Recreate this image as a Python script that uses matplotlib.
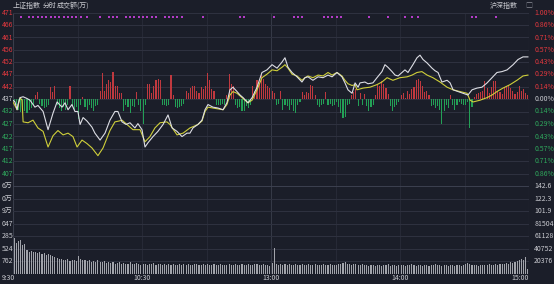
import matplotlib
matplotlib.use('Agg')
import matplotlib.pyplot as plt
import matplotlib.transforms as mtransforms
import numpy as np

plt.rcParams['font.family'] = ['Noto Sans CJK SC', 'DejaVu Sans']

# ---------------- data ----------------
# left price labels (only the visible tail digits of 3471 ... 3407)
price_labels = ['471', '466', '461', '456', '452', '447', '442', '437',
                '432', '427', '422', '417', '412', '407']
pct_levels = [1.00, 0.86, 0.71, 0.57, 0.43, 0.29, 0.14, 0.00,
              -0.14, -0.29, -0.43, -0.57, -0.71, -0.86]
time_labels = ['9:30', '10:30', '13:00', '14:00', '15:00']
time_label_pos = [0, 60, 120, 180, 240]

# white line (上证指数), minutes from 9:30, % change
white_t = [0, 0.9, 1.9, 2.3, 3.3, 4.7, 6.5, 7.9, 10.2, 11.6, 14.0, 16.3, 18.6, 20.5, 22.8, 24.2,
           25.6, 27.4, 28.8, 30.2, 31.2, 32.6, 34.4, 36.7, 38.1, 40.5, 42.8, 45.1, 47.4, 48.8,
           50.7, 52.6, 54.4, 56.7, 58.1, 60.0, 61.4, 62.8, 65.1, 67.4, 69.8, 72.1, 74.0, 76.3,
           78.6, 80.9, 82.3, 83.7, 86.0, 87.9, 89.3, 90.7, 93.0, 95.3, 97.7, 99.5, 100.9, 102.3,
           104.2, 105.6, 107.0, 109.3, 111.2, 113.5, 115.8, 118.1, 120.5, 122.8, 125.1, 126.5,
           127.9, 129.8, 132.1, 134.4, 135.8, 137.2, 139.5, 141.9, 144.2, 146.5, 148.4, 150.7,
           153.0, 154.4, 155.8, 157.7, 159.1, 160.5, 161.4, 163.7, 165.1, 167.4, 169.3, 171.6,
           173.0, 174.4, 176.3, 177.7, 179.1, 180.9, 182.3, 183.7, 186.0, 187.9, 189.3, 190.7,
           192.6, 194.9, 196.3, 197.7, 199.5, 201.9, 203.3, 204.7, 207.0, 209.3, 211.6, 213.5,
           215.8, 218.1, 220.5, 222.8, 225.1, 227.4, 229.8, 232.6, 234.9, 237.2, 239.5]
white_pct = [-0.01, -0.03, -0.12, -0.06, 0.02, 0.03, 0.01, -0.01, -0.09, -0.07, -0.14, -0.35,
             -0.16, -0.03, -0.09, -0.04, -0.12, -0.06, -0.14, -0.14, -0.29, -0.21, -0.25, -0.32,
             -0.39, -0.47, -0.39, -0.24, -0.14, -0.14, -0.26, -0.29, -0.27, -0.33, -0.28, -0.35,
             -0.55, -0.50, -0.43, -0.37, -0.29, -0.18, -0.33, -0.37, -0.43, -0.39, -0.39, -0.33,
             -0.29, -0.24, -0.12, -0.06, -0.09, -0.10, -0.12, -0.04, 0.11, 0.14, 0.09, 0.05, 0.02,
             -0.04, 0.02, 0.14, 0.31, 0.34, 0.40, 0.36, 0.43, 0.48, 0.37, 0.31, 0.26, 0.20, 0.25,
             0.26, 0.22, 0.26, 0.25, 0.28, 0.26, 0.31, 0.26, 0.19, 0.11, 0.07, 0.19, 0.14, 0.19,
             0.20, 0.18, 0.19, 0.25, 0.32, 0.40, 0.37, 0.32, 0.28, 0.27, 0.31, 0.34, 0.31, 0.40,
             0.48, 0.51, 0.46, 0.42, 0.36, 0.33, 0.31, 0.20, 0.22, 0.19, 0.11, 0.09, 0.07, 0.05,
             0.11, 0.13, 0.14, 0.19, 0.25, 0.31, 0.32, 0.34, 0.40, 0.46, 0.49, 0.49]

# yellow line (沪深指数)
yellow_t = [0, 1.9, 3.3, 4.2, 4.7, 7.0, 9.3, 11.6, 14.0, 16.3, 18.6, 20.9, 23.3, 25.6, 27.9,
            29.8, 32.1, 34.4, 36.7, 39.5, 41.9, 45.1, 47.4, 49.3, 50.7, 53.0, 55.8, 59.1, 61.4,
            63.7, 66.0, 68.4, 71.6, 73.0, 76.3, 79.1, 82.3, 84.2, 86.0, 87.9, 89.3, 90.7, 93.0,
            95.3, 97.7, 99.5, 100.9, 102.3, 104.2, 105.6, 107.0, 109.3, 111.2, 113.5, 115.8,
            118.1, 120.5, 122.8, 125.1, 126.5, 127.9, 129.8, 132.1, 134.4, 135.8, 137.2, 139.5,
            141.9, 144.2, 146.5, 148.4, 150.7, 153.0, 154.4, 155.8, 157.7, 159.1, 160.0, 162.8,
            166.0, 169.3, 171.6, 174.0, 176.7, 180.0, 183.3, 185.6, 187.9, 190.2, 192.6, 195.3,
            198.6, 201.9, 204.7, 207.9, 211.2, 212.6, 214.0, 217.2, 220.5, 222.8, 225.1, 227.9,
            231.2, 234.4, 237.2, 239.5]
yellow_pct = [-0.03, -0.12, 0.02, -0.01, -0.26, -0.27, -0.24, -0.33, -0.37, -0.55, -0.42, -0.36,
              -0.41, -0.39, -0.43, -0.55, -0.47, -0.51, -0.56, -0.65, -0.56, -0.36, -0.26, -0.25,
              -0.24, -0.29, -0.35, -0.35, -0.49, -0.43, -0.33, -0.27, -0.26, -0.29, -0.41, -0.39,
              -0.33, -0.31, -0.29, -0.25, -0.14, -0.09, -0.10, -0.11, -0.12, -0.06, 0.05, 0.09,
              0.07, 0.04, 0.01, -0.04, -0.01, 0.11, 0.25, 0.29, 0.34, 0.33, 0.37, 0.40, 0.36, 0.29,
              0.27, 0.22, 0.25, 0.27, 0.25, 0.28, 0.27, 0.31, 0.28, 0.31, 0.27, 0.22, 0.18, 0.16,
              0.17, 0.11, 0.13, 0.14, 0.17, 0.20, 0.25, 0.22, 0.25, 0.26, 0.28, 0.31, 0.32, 0.28,
              0.25, 0.20, 0.14, 0.11, 0.09, 0.07, -0.01, -0.03, -0.01, 0.02, 0.05, 0.09, 0.13,
              0.17, 0.22, 0.27, 0.28]

# red/green lead bars, per minute, in 0.01 %
lead_bp = [-3, -7, -12, -15, -9, -14, -16, -12, -10, -7,
           5, 8, -5, -8, -10, -9, -6, 14, 9, 15,
           -7, -10, -14, -9, -12, -7, 15, -8, -12, -9,
           -23, -7, 3, -9, -12, -7, -10, -13, -8, -6,
           10, 30, 10, 18, 22, 20, 32, 15, 15, 7,
           7, -14, -7, -9, -16, -8, -9, 9, -7, -13,
           -29, -6, 18, 18, 7, 15, 22, 23, 22, -7,
           -7, -8, -7, 28, 5, -9, -10, -9, -8, -5,
           10, 7, 13, 15, 15, 10, 7, 14, 12, 15,
           30, 22, 12, 10, -7, -6, -7, -5, -6, 5,
           29, 18, 15, -6, -10, -9, -13, -14, -8, -10,
           -6, 15, 10, 22, 18, 28, 23, 18, 15, 13,
           10, 7, -7, -5, 10, -12, -6, -8, -12, -7,
           -14, -16, -6, -3, 9, 5, 9, 7, 16, 15,
           5, -7, -9, -6, -5, 9, -7, -5, -8, -6,
           -3, -9, -16, -22, -20, -7, -5, 5, 9, 12,
           -8, 7, -6, 6, -8, -14, -9, -6, 5, 16,
           15, 21, 18, 13, 6, -8, -13, -9, -6, -3,
           5, 7, 2, 10, 6, 12, 14, 22, 24, 21,
           15, 9, 10, 5, -8, -7, -10, -8, -12, -28,
           -14, -6, -10, 5, -7, -12, -6, -3, -5, -6,
           -7, -3, -33, -9, 3, 6, 7, 9, 10, 21,
           13, 7, 14, 21, 21, 10, 9, 6, 14, 15,
           16, 13, 10, 6, 8, 15, 10, 12, 7, 5]

# volume per minute (万)
volume = [58, 50, 54, 55, 47, 48, 39, 36, 37, 35,
          36, 34, 35, 33, 34, 31, 32, 30, 29, 27,
          26, 24, 25, 23, 22, 24, 21, 22, 23, 21,
          29, 25, 23, 22, 21, 22, 20, 21, 19, 22,
          20, 19, 21, 18, 19, 18, 20, 17, 18, 19,
          17, 18, 16, 17, 19, 16, 17, 18, 16, 15,
          17, 16, 15, 17, 16, 18, 15, 16, 17, 15,
          16, 15, 17, 14, 16, 15, 14, 16, 15, 17,
          15, 16, 14, 15, 17, 16, 15, 14, 16, 15,
          17, 15, 14, 16, 15, 14, 16, 15, 14, 15,
          16, 14, 15, 17, 14, 15, 16, 14, 15, 16,
          14, 15, 17, 16, 14, 15, 16, 14, 15, 13,
          18, 42, 17, 15, 16, 14, 17, 15, 16, 14,
          15, 16, 14, 15, 17, 14, 15, 16, 14, 15,
          16, 14, 15, 14, 16, 15, 14, 16, 15, 14,
          15, 17, 16, 18, 19, 17, 16, 15, 17, 16,
          15, 14, 16, 15, 14, 13, 15, 14, 13, 15,
          14, 13, 15, 14, 16, 13, 14, 15, 13, 14,
          15, 14, 13, 15, 14, 16, 14, 13, 15, 14,
          13, 15, 14, 13, 15, 14, 16, 15, 14, 13,
          15, 14, 13, 15, 14, 13, 14, 15, 13, 14,
          16, 18, 17, 15, 14, 15, 13, 14, 15, 14,
          15, 16, 14, 15, 17, 15, 16, 17, 16, 18,
          17, 19, 18, 20, 21, 22, 24, 23, 27, 8]

# purple signal markers (minute index)
signal_idx = [3, 7, 9, 11, 13, 15, 17, 19, 21, 23, 25, 27, 29, 31, 34, 40, 44, 46, 48, 52, 54,
              56, 58, 60, 62, 64, 66, 70, 72, 74, 76, 78, 88, 105, 107, 121, 130, 132, 134, 144,
              146, 148, 150, 152, 165, 174, 182, 185, 188, 213, 215, 224]

vol_levels = [142.632, 122.256, 101.88, 81.504, 61.128, 40.752, 20.376]  # 万
vol_right_labels = ['142.6', '122.3', '101.9', '81504', '61128', '40752', '20376']
vol_left_labels = ['6万', '0万', '9万', '047', '285', '524', '762']

# ---------------- style ----------------
BG = '#1b1e29'
GRID = '#2f3240'
VGRID = '#272a37'
RED = '#c0393f'
GREEN = '#23a056'
RED_T = '#e0383e'
GREEN_T = '#2fa65c'
TXT = '#c9cad0'

W, H = 554, 284
fig = plt.figure(figsize=(W / 100, H / 100), dpi=100, facecolor=BG)

def rect(x0, y0, x1, y1):
    return [x0 / W, 1 - y1 / H, (x1 - x0) / W, (y1 - y0) / H]

ax = fig.add_axes(rect(13, 12.7, 529, 186), facecolor=BG)
axv = fig.add_axes(rect(13, 186, 529, 274), facecolor=BG)

for a in (ax, axv):
    a.set_xlim(0, 240)
    a.set_xticks([])
    a.set_yticks([])
    for s in a.spines.values():
        s.set_visible(False)
    for t in range(30, 240, 30):
        a.axvline(t, color='#363a47' if t == 120 else VGRID, lw=0.7, zorder=0)
    a.axvline(0, color='#3a3e4b', lw=0.8, zorder=0)
    a.axvline(240, color='#3a3e4b', lw=0.8, zorder=0)

ax.set_ylim(-1, 1)
for k in range(-7, 8):
    ax.axhline(k / 7, color=GRID, lw=0.7, zorder=0)

# lead bars
lead = np.array(lead_bp) / 100.0
idx = np.arange(len(lead)) + 0.5
ax.bar(idx, lead, width=0.5, color=[RED if v > 0 else GREEN for v in lead], linewidth=0, zorder=2)

ax.plot(yellow_t, yellow_pct, color='#cfcf3a', lw=0.8, zorder=3)
ax.plot(white_t, white_pct, color='#dcdde4', lw=0.8, zorder=4)

ax.scatter(np.array(signal_idx) + 0.5, np.full(len(signal_idx), 0.95), marker='s', s=1.6,
           color='#b43cc8', linewidths=0, zorder=5)

left_tr = mtransforms.blended_transform_factory(fig.transFigure, ax.transData)
left_trv = mtransforms.blended_transform_factory(fig.transFigure, axv.transData)

# labels top panel
for lab, v in zip(price_labels, pct_levels):
    col = RED_T if v > 0 else (GREEN_T if v < 0 else TXT)
    fig.text(1.5 / W, v, lab, transform=left_tr, ha='left', va='center', fontsize=5, color=col)
    ax.text(1.01, v, f'{abs(v):.2f}%', transform=ax.get_yaxis_transform(), ha='left',
            va='center', fontsize=5, color=col)

# volume panel
axv.set_ylim(0, vol_levels[0])
axv.axhline(0, color='#3d4150', lw=0.7, zorder=0)
for lv in vol_levels:
    axv.axhline(lv, color='#3d4150' if lv == vol_levels[0] else GRID, lw=0.7, zorder=0)
axv.bar(np.arange(len(volume)) + 0.5, volume, width=0.5, color='#a2a4ab', linewidth=0, zorder=2)
for lv, lr, ll in zip(vol_levels, vol_right_labels, vol_left_labels):
    axv.text(1.01, lv, lr, transform=axv.get_yaxis_transform(), ha='left', va='center',
             fontsize=5, color=TXT)
    fig.text(1.5 / W, lv, ll, transform=left_trv, ha='left', va='center', fontsize=5, color=TXT)

# time labels
time_tr = mtransforms.blended_transform_factory(axv.transData, fig.transFigure)
for lab, t in zip(time_labels, time_label_pos):
    if t == 0:
        fig.text(1.5 / W, 1 - 278.5 / H, lab, ha='left', va='center', fontsize=5, color=TXT)
        continue
    ha = 'right' if t == 240 else 'center'
    fig.text(t, 1 - 278.5 / H, lab, transform=time_tr, ha=ha, va='center', fontsize=5, color=TXT)

# header
fig.text(13 / W, 1 - 5.5 / H, '上证指数', fontsize=5, color=TXT, va='center', ha='left')
fig.text(43 / W, 1 - 5.5 / H, '分时', fontsize=5, color=TXT, va='center', ha='left')
fig.text(57 / W, 1 - 5.5 / H, '成交额(万)', fontsize=5, color=TXT, va='center', ha='left')
fig.text(490 / W, 1 - 5.5 / H, '沪深指数', fontsize=5, color=TXT, va='center', ha='left')
fig.text(525 / W, 1 - 5.5 / H, '□', fontsize=5, color='#8a8c95', va='center', ha='left')

fig.savefig('out.png', dpi=100, facecolor=BG)
